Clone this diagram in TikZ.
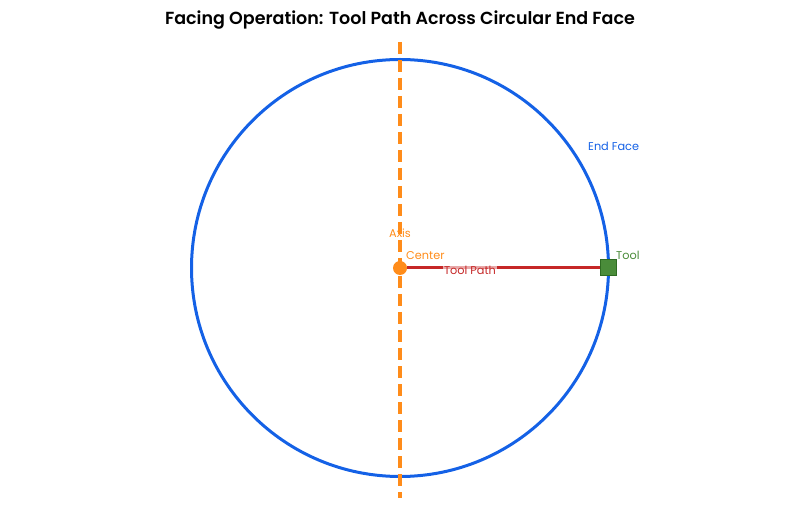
\documentclass[tikz,border=0pt]{standalone}
\usepackage{fontspec}
\setmainfont{Poppins}
\newfontfamily\titlefont{Poppins SemiBold}
\definecolor{faceblue}{HTML}{1461E6}
\definecolor{axisorange}{HTML}{FF8C1A}
\definecolor{pathred}{HTML}{C62828}
\definecolor{toolgreen}{HTML}{4A8C3A}
\definecolor{tooledge}{HTML}{2E6B22}
\tikzset{
  lbl/.style={font=\fontsize{11.3}{13}\selectfont, inner sep=1pt},
  toolbox/.style={draw=tooledge, fill=toolgreen, line width=1pt, minimum size=16pt, inner sep=0pt},
  centerdot/.style={circle, fill=axisorange, minimum size=14pt, inner sep=0pt},
}
\begin{document}
\begin{tikzpicture}[x=1pt,y=-1pt]
\useasboundingbox (0,0) rectangle (800,510);
\node[font=\fontsize{17.5}{21}\selectfont\titlefont] (title) at (400,20) {Facing Operation: Tool Path Across Circular End Face};
\coordinate (axtop) at (400,42);
\coordinate (axbot) at (400,498);
\draw[faceblue, line width=3pt] (400,268) circle[radius=208.5];
\draw[axisorange, line width=3.2pt, dash pattern=on 12pt off 6pt] (axtop) -- (axbot);
\node[centerdot] (center) at (400,268) {};
\node[toolbox] (tool) at (608,268) {};
\draw[pathred, line width=3pt] (center) -- (tool);
\node[toolbox] at (608,268) {};
\node[lbl, text=pathred, fill=white, fill opacity=0.6, text opacity=1] (tp) at (470,270) {Tool Path};
\node[lbl, text=axisorange] (axl) at (400,233) {Axis};
\node[lbl, text=axisorange, anchor=west] (cl) at (405,256) {Center};
\node[lbl, text=toolgreen, anchor=west] (tl) at (615,255) {Tool};
\node[lbl, text=faceblue, anchor=west] (ef) at (587,146) {End Face};
\end{tikzpicture}
\end{document}
